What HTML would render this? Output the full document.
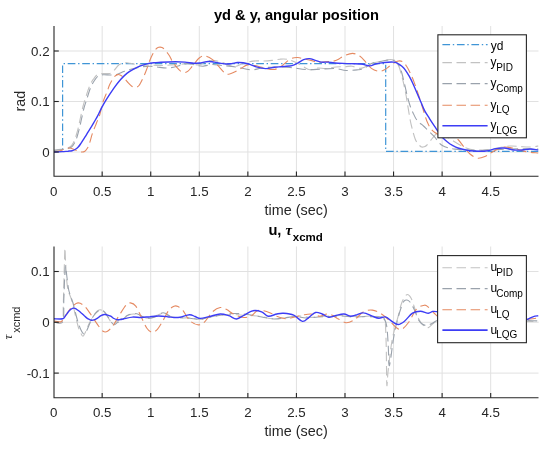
<!DOCTYPE html>
<html><head><meta charset="utf-8"><title>plot</title><style>
html,body{margin:0;padding:0;background:#fff;}
body{width:550px;height:452px;overflow:hidden;position:relative;}
text{font-family:"Liberation Sans",Arial,sans-serif;fill:#262626;}
.tk{font-size:13.33px;}
.lb{font-size:14.4px;}
.tt{font-size:14.67px;font-weight:bold;fill:#000;}
.tts{font-size:11.5px;font-weight:bold;fill:#000;}
.tau{font-family:"Liberation Serif",serif;font-style:italic;font-weight:bold;}
.tau2{font-family:"Liberation Serif",serif;font-style:italic;font-size:13.5px;}
.ls{font-size:11px;}
.lg{font-size:12px;fill:#000;}
.lgs{font-size:10px;fill:#000;}
</style></head><body>
<svg width="550" height="452" viewBox="0 0 550 452" style="position:absolute;left:0;top:0">
<rect width="550" height="452" fill="#fff"/>
<line x1="102.16" y1="26.0" x2="102.16" y2="176.3" stroke="#e1e1e1" stroke-width="1"/>
<line x1="150.73" y1="26.0" x2="150.73" y2="176.3" stroke="#e1e1e1" stroke-width="1"/>
<line x1="199.29" y1="26.0" x2="199.29" y2="176.3" stroke="#e1e1e1" stroke-width="1"/>
<line x1="247.86" y1="26.0" x2="247.86" y2="176.3" stroke="#e1e1e1" stroke-width="1"/>
<line x1="296.43" y1="26.0" x2="296.43" y2="176.3" stroke="#e1e1e1" stroke-width="1"/>
<line x1="344.99" y1="26.0" x2="344.99" y2="176.3" stroke="#e1e1e1" stroke-width="1"/>
<line x1="393.56" y1="26.0" x2="393.56" y2="176.3" stroke="#e1e1e1" stroke-width="1"/>
<line x1="442.12" y1="26.0" x2="442.12" y2="176.3" stroke="#e1e1e1" stroke-width="1"/>
<line x1="490.69" y1="26.0" x2="490.69" y2="176.3" stroke="#e1e1e1" stroke-width="1"/>
<line x1="54" y1="51.0" x2="538.5" y2="51.0" stroke="#e1e1e1" stroke-width="1"/>
<line x1="54" y1="101.5" x2="538.5" y2="101.5" stroke="#e1e1e1" stroke-width="1"/>
<line x1="54" y1="152.0" x2="538.5" y2="152.0" stroke="#e1e1e1" stroke-width="1"/>
<clipPath id="c1"><rect x="54" y="26.0" width="484.5" height="150.3"/></clipPath>
<g clip-path="url(#c1)" fill="none" stroke-linejoin="round">
<path d="M54 151.5 H62.6 V63.7 H385.7 V151.4 H538.5" stroke="#3f95d6" stroke-width="1.2" stroke-dasharray="7.7 2.7 1.4 2.7"/>
<path d="M54.0 150.0 C55.1 149.9 58.6 149.6 60.6 149.3 C62.6 149.1 64.3 149.0 66.0 148.5 C67.7 148.0 69.2 147.5 70.5 146.5 C71.8 145.5 72.6 144.2 73.5 142.5 C74.4 140.8 75.2 138.6 76.0 136.0 C76.8 133.4 77.7 130.3 78.5 127.0 C79.3 123.7 80.0 119.5 80.8 116.0 C81.6 112.5 82.4 108.8 83.1 106.0 C83.8 103.2 84.4 101.5 85.2 99.0 C86.0 96.5 86.9 93.6 87.7 91.2 C88.5 88.8 89.3 86.6 90.3 84.5 C91.3 82.4 92.6 80.2 93.8 78.6 C95.0 76.9 96.0 75.4 97.5 74.6 C99.0 73.8 100.5 73.8 102.5 73.6 C104.5 73.4 107.6 73.8 109.2 73.6 C110.8 73.4 111.1 72.8 112.0 72.2 C112.9 71.6 113.3 71.1 114.5 69.9 C115.7 68.7 117.3 66.0 119.0 64.8 C120.7 63.6 122.7 62.9 124.5 62.6 C126.3 62.4 127.9 63.0 130.0 63.3 C132.1 63.6 134.5 64.3 137.0 64.6 C139.5 64.9 142.3 65.1 145.0 65.2 C147.7 65.3 150.3 65.2 153.0 65.2 C155.7 65.2 158.2 65.5 161.0 65.5 C163.8 65.5 166.8 65.2 170.0 65.0 C173.2 64.8 176.7 64.4 180.0 64.2 C183.3 64.0 186.8 63.5 190.0 63.6 C193.2 63.7 196.2 65.2 199.0 64.8 C201.8 64.4 204.5 61.7 207.0 61.0 C209.5 60.3 211.5 60.4 214.0 60.6 C216.5 60.8 218.8 61.2 222.0 62.2 C225.2 63.2 229.7 66.2 233.0 66.5 C236.3 66.8 238.7 64.9 242.0 64.0 C245.3 63.1 249.3 61.6 253.0 61.1 C256.7 60.6 260.8 61.1 264.0 61.0 C267.2 60.9 269.3 60.7 272.0 60.4 C274.7 60.1 277.5 59.4 280.0 59.2 C282.5 59.0 284.5 58.8 287.0 59.3 C289.5 59.8 292.3 60.8 295.0 62.0 C297.7 63.2 300.5 65.2 303.0 66.5 C305.5 67.8 307.5 69.5 310.0 69.8 C312.5 70.0 315.3 68.2 318.0 68.0 C320.7 67.8 323.0 68.7 326.0 68.5 C329.0 68.3 332.8 67.3 336.0 67.0 C339.2 66.7 342.3 66.8 345.0 66.7 C347.7 66.6 349.5 65.9 352.0 66.2 C354.5 66.5 357.7 68.4 360.0 68.4 C362.3 68.5 363.8 67.4 366.0 66.5 C368.2 65.6 370.7 64.0 373.0 63.2 C375.3 62.4 377.5 62.1 380.0 61.5 C382.5 60.9 385.7 60.0 388.0 59.7 C390.3 59.5 392.5 59.4 394.0 60.0 C395.5 60.6 396.1 61.9 397.0 63.2 C397.9 64.5 398.8 66.0 399.5 68.0 C400.2 70.0 400.9 72.7 401.5 75.0 C402.1 77.3 402.7 79.5 403.3 82.0 C403.9 84.5 404.5 87.7 405.0 90.0 C405.5 92.3 405.8 93.8 406.2 96.0 C406.6 98.2 406.9 100.7 407.3 103.0 C407.7 105.3 408.1 107.3 408.5 110.0 C408.9 112.7 409.5 116.3 410.0 119.0 C410.5 121.7 410.9 123.7 411.5 126.0 C412.1 128.3 412.7 130.9 413.3 133.0 C413.9 135.1 414.4 136.9 415.0 138.5 C415.6 140.1 416.2 141.3 417.0 142.5 C417.8 143.7 418.7 144.8 419.5 145.5 C420.3 146.2 420.9 146.8 421.6 147.0 C422.4 147.2 423.1 147.1 424.0 146.8 C424.9 146.5 425.6 146.4 427.0 145.0 C428.4 143.6 430.7 140.3 432.2 138.5 C433.7 136.7 434.9 134.9 436.2 134.0 C437.5 133.1 438.4 132.7 440.0 133.0 C441.6 133.3 443.5 134.5 446.0 136.0 C448.5 137.5 451.8 140.1 455.0 142.0 C458.2 143.9 461.7 146.2 465.0 147.5 C468.3 148.8 471.2 149.7 475.0 150.0 C478.8 150.3 483.8 149.9 488.0 149.5 C492.2 149.1 496.3 148.1 500.0 147.5 C503.7 146.9 506.7 146.2 510.0 146.0 C513.3 145.8 516.7 146.3 520.0 146.5 C523.3 146.7 526.9 147.1 530.0 147.0 C533.1 146.9 537.1 146.2 538.5 146.0" stroke="#c2c2c2" stroke-width="1.1" stroke-dasharray="9.5 4.6"/>
<path d="M54.0 150.5 C55.2 150.4 58.8 150.1 61.0 149.8 C63.2 149.5 65.2 149.3 67.0 148.8 C68.8 148.3 70.2 148.0 71.5 147.0 C72.8 146.0 73.6 144.7 74.5 143.0 C75.4 141.3 76.2 139.5 77.0 137.0 C77.8 134.5 78.7 131.2 79.5 128.0 C80.3 124.8 81.0 121.3 81.7 118.0 C82.5 114.7 83.2 110.8 84.0 108.0 C84.8 105.2 85.4 103.5 86.2 101.0 C87.0 98.5 87.9 95.5 88.7 93.0 C89.5 90.5 90.3 88.2 91.3 86.0 C92.3 83.8 93.6 81.7 94.8 80.0 C96.0 78.3 97.0 76.7 98.5 75.8 C100.0 74.9 101.6 74.9 103.5 74.8 C105.4 74.7 107.9 75.0 110.0 75.0 C112.1 75.0 113.6 75.4 116.0 74.8 C118.4 74.2 121.8 72.3 124.5 71.3 C127.2 70.3 129.6 69.5 132.5 68.8 C135.4 68.0 138.9 67.2 141.8 66.8 C144.7 66.4 147.3 66.2 149.8 66.2 C152.3 66.2 154.0 66.7 157.0 67.0 C160.0 67.3 164.5 68.2 168.0 68.0 C171.5 67.8 174.8 66.8 178.0 66.0 C181.2 65.2 184.2 63.7 187.0 63.5 C189.8 63.3 192.3 64.5 195.0 65.0 C197.7 65.5 200.2 66.3 203.0 66.2 C205.8 66.1 208.8 64.6 212.0 64.5 C215.2 64.4 218.0 65.1 222.0 65.5 C226.0 65.9 231.2 66.3 236.0 67.0 C240.8 67.7 246.7 69.6 251.0 69.8 C255.3 70.0 258.0 68.5 262.0 68.0 C266.0 67.5 270.3 67.1 275.0 67.0 C279.7 66.9 284.8 67.1 290.0 67.5 C295.2 67.9 301.0 69.2 306.0 69.5 C311.0 69.8 315.2 69.4 320.0 69.2 C324.8 69.0 330.7 68.3 335.0 68.5 C339.3 68.7 342.2 70.3 346.0 70.5 C349.8 70.7 355.0 70.1 358.0 69.8 C361.0 69.5 361.8 69.5 364.0 68.4 C366.2 67.3 369.0 64.5 371.4 63.4 C373.8 62.3 376.0 62.4 378.6 61.9 C381.2 61.4 384.6 60.5 387.0 60.2 C389.4 59.9 391.2 59.8 393.0 60.3 C394.8 60.8 396.2 62.1 397.5 63.5 C398.8 64.9 399.7 66.5 400.5 68.5 C401.3 70.5 401.9 73.2 402.5 75.5 C403.1 77.8 403.6 80.0 404.2 82.5 C404.8 85.0 405.4 88.1 406.0 90.5 C406.6 92.9 406.9 94.8 407.5 97.0 C408.1 99.2 408.8 101.9 409.5 104.0 C410.2 106.1 410.8 107.9 411.5 109.5 C412.2 111.1 412.8 112.2 413.5 113.8 C414.2 115.3 415.1 117.3 416.0 118.8 C416.9 120.2 418.0 121.5 419.0 122.5 C420.0 123.5 420.9 123.7 422.0 124.6 C423.1 125.5 424.2 126.7 425.5 127.9 C426.8 129.1 427.9 130.4 429.5 131.9 C431.1 133.4 433.2 135.4 434.8 137.2 C436.4 139.0 437.5 141.1 438.8 142.5 C440.1 143.9 441.2 144.9 442.8 145.8 C444.4 146.7 446.1 147.2 448.1 147.8 C450.1 148.4 452.0 148.7 455.0 149.1 C458.0 149.5 462.2 149.8 466.0 150.0 C469.8 150.2 474.0 150.5 478.0 150.5 C482.0 150.5 484.7 150.2 490.0 150.0 C495.3 149.8 501.9 149.2 510.0 149.0 C518.1 148.8 533.8 149.0 538.5 149.0" stroke="#9aa2ac" stroke-width="1.1" stroke-dasharray="9.5 4.6"/>
<path d="M54.0 151.8 C55.0 151.6 58.0 151.4 60.0 150.8 C62.0 150.2 64.2 148.9 66.0 148.5 C67.8 148.1 69.3 147.9 71.0 148.2 C72.7 148.5 74.4 149.7 76.0 150.3 C77.6 150.9 79.1 151.7 80.5 151.9 C81.9 152.1 83.3 152.2 84.5 151.5 C85.7 150.8 86.6 149.5 87.5 148.0 C88.4 146.5 89.0 144.9 89.8 142.4 C90.6 139.9 91.4 136.4 92.5 133.2 C93.6 130.0 95.2 126.3 96.4 123.2 C97.6 120.1 98.8 117.8 99.8 114.6 C100.8 111.4 101.5 106.8 102.3 104.0 C103.1 101.2 103.9 99.6 104.7 97.5 C105.5 95.4 106.4 93.6 107.2 91.5 C108.0 89.4 108.6 87.0 109.5 85.0 C110.4 83.0 111.6 81.0 112.5 79.5 C113.4 78.0 114.1 77.0 115.0 76.2 C115.9 75.4 116.8 74.8 117.7 74.6 C118.6 74.4 119.5 74.7 120.5 75.2 C121.5 75.7 122.3 76.3 123.5 77.4 C124.7 78.5 126.1 80.5 127.5 82.0 C128.9 83.5 130.5 85.3 131.8 86.2 C133.1 87.1 134.3 87.3 135.5 87.2 C136.7 87.1 137.7 87.2 139.0 85.5 C140.3 83.8 142.2 79.7 143.5 77.0 C144.8 74.3 145.5 72.3 146.6 69.5 C147.7 66.7 149.0 62.5 150.0 60.0 C151.0 57.5 151.6 56.2 152.5 54.5 C153.4 52.8 154.5 50.7 155.5 49.5 C156.5 48.3 157.6 47.6 158.7 47.3 C159.8 47.0 160.9 47.0 162.0 47.5 C163.1 48.0 163.7 48.6 165.0 50.0 C166.3 51.4 168.3 54.0 169.6 56.0 C170.8 58.0 171.3 59.9 172.5 61.8 C173.7 63.7 175.6 66.0 177.0 67.6 C178.4 69.2 179.7 70.7 181.0 71.5 C182.3 72.3 183.8 72.5 185.0 72.5 C186.2 72.5 186.8 72.2 188.0 71.2 C189.2 70.2 190.4 68.4 192.3 66.2 C194.2 64.0 197.3 59.5 199.5 57.8 C201.7 56.1 203.2 55.7 205.4 56.0 C207.6 56.3 210.4 57.9 212.6 59.6 C214.8 61.3 216.6 64.0 218.5 66.2 C220.4 68.4 222.6 71.2 224.3 72.5 C226.0 73.8 226.7 74.4 228.6 74.2 C230.5 74.0 233.8 72.3 235.9 71.3 C238.0 70.3 239.1 69.5 241.0 68.4 C242.9 67.3 245.2 65.4 247.5 64.9 C249.8 64.4 252.4 65.1 254.8 65.5 C257.2 65.9 259.0 66.6 262.0 67.3 C265.0 68.0 269.9 69.6 273.0 69.5 C276.1 69.4 277.5 68.7 280.4 66.9 C283.3 65.1 287.6 60.5 290.5 58.9 C293.4 57.3 295.6 57.5 297.8 57.5 C300.0 57.5 301.4 58.4 303.6 58.9 C305.8 59.4 308.5 59.8 310.9 60.4 C313.3 61.0 315.8 62.1 318.2 62.3 C320.6 62.5 323.1 62.0 325.5 61.8 C327.9 61.6 330.6 61.7 332.7 61.3 C334.8 60.9 336.2 60.4 338.0 59.5 C339.8 58.6 341.3 57.0 343.7 56.0 C346.1 55.0 349.8 53.4 352.5 53.4 C355.2 53.4 357.5 54.6 359.7 56.0 C361.9 57.4 363.6 59.7 365.5 61.8 C367.4 63.9 369.2 66.8 371.4 68.4 C373.6 70.0 376.4 71.1 378.6 71.3 C380.8 71.5 382.5 70.8 384.5 69.8 C386.5 68.8 388.4 66.9 390.5 65.5 C392.6 64.1 395.3 61.9 397.3 61.2 C399.3 60.6 401.1 60.8 402.6 61.6 C404.2 62.5 405.3 64.3 406.6 66.3 C407.9 68.3 409.3 71.0 410.5 73.6 C411.7 76.1 412.8 78.7 413.9 81.6 C415.0 84.5 416.2 88.0 417.2 90.9 C418.2 93.8 418.9 96.2 419.8 99.0 C420.7 101.8 421.6 104.8 422.5 107.5 C423.4 110.2 424.2 113.0 425.0 115.5 C425.8 118.0 426.5 120.4 427.5 122.6 C428.5 124.8 429.7 127.2 430.9 128.8 C432.1 130.5 433.3 131.5 434.8 132.5 C436.3 133.5 438.0 134.4 440.0 135.0 C442.0 135.6 445.0 135.8 447.0 136.0 C449.0 136.2 450.2 135.9 452.0 136.5 C453.8 137.1 456.0 137.8 458.0 139.5 C460.0 141.2 462.0 144.6 464.0 147.0 C466.0 149.4 467.7 152.1 470.0 154.0 C472.3 155.9 475.3 157.9 478.0 158.2 C480.7 158.5 484.0 156.8 486.0 156.0 C488.0 155.2 488.3 154.5 490.0 153.5 C491.7 152.5 493.7 151.1 496.0 150.0 C498.3 148.9 501.3 147.3 504.0 147.0 C506.7 146.7 509.3 147.5 512.0 148.0 C514.7 148.5 517.3 149.3 520.0 150.0 C522.7 150.7 524.9 151.5 528.0 152.0 C531.1 152.5 536.8 152.8 538.5 153.0" stroke="#e58a62" stroke-width="1.1" stroke-dasharray="9.5 4.6"/>
<path d="M54.0 152.0 C55.3 151.9 59.7 151.7 62.0 151.6 C64.3 151.5 66.3 151.3 68.0 151.2 C69.7 151.0 70.8 151.0 72.0 150.7 C73.2 150.4 74.0 150.1 75.0 149.5 C76.0 148.9 77.1 148.1 78.0 147.2 C78.9 146.3 79.7 145.2 80.5 144.0 C81.3 142.8 82.2 141.5 83.0 140.2 C83.8 138.9 84.8 137.5 85.6 136.2 C86.4 134.9 87.2 133.5 88.0 132.2 C88.8 130.9 89.5 129.8 90.5 128.2 C91.5 126.6 92.6 124.7 93.8 122.6 C95.0 120.5 96.5 118.1 97.8 115.6 C99.1 113.1 100.2 110.3 101.7 107.6 C103.2 104.9 104.6 102.4 106.6 99.2 C108.6 96.0 111.6 91.5 113.9 88.2 C116.2 84.9 118.4 82.0 120.6 79.5 C122.8 77.0 125.0 74.8 127.2 73.1 C129.4 71.4 131.6 70.4 133.8 69.2 C136.0 68.0 138.3 66.8 140.5 65.9 C142.7 65.0 144.9 64.4 147.1 63.9 C149.3 63.4 151.5 63.1 153.8 62.8 C156.1 62.5 157.3 62.5 160.9 62.3 C164.5 62.1 171.5 61.8 175.5 61.8 C179.5 61.8 182.0 61.9 185.0 62.1 C188.0 62.4 191.3 63.1 193.7 63.3 C196.1 63.4 197.1 63.3 199.5 63.0 C201.9 62.7 205.9 61.6 208.3 61.5 C210.7 61.4 211.2 61.7 214.1 62.1 C217.0 62.5 222.8 63.8 225.7 64.0 C228.6 64.2 229.6 63.9 231.5 63.6 C233.4 63.4 235.5 62.6 237.4 62.5 C239.3 62.4 241.0 62.4 243.2 62.8 C245.4 63.2 248.3 64.0 250.5 64.7 C252.7 65.4 253.8 66.2 256.3 66.9 C258.9 67.6 262.8 68.5 265.8 68.6 C268.8 68.7 271.6 67.6 274.5 67.3 C277.4 67.0 280.4 66.8 283.3 66.5 C286.2 66.2 289.6 66.2 292.0 65.6 C294.4 65.0 295.9 64.0 297.8 63.0 C299.7 62.0 301.7 60.3 303.6 59.6 C305.6 58.9 307.6 58.5 309.5 58.6 C311.4 58.7 313.4 59.8 315.3 60.4 C317.2 61.0 318.9 61.8 321.1 62.1 C323.3 62.4 326.1 62.0 328.4 62.1 C330.7 62.2 331.5 62.8 335.0 63.0 C338.5 63.2 345.1 63.4 349.5 63.6 C353.9 63.8 357.8 63.6 361.2 64.0 C364.6 64.4 367.5 65.9 369.9 65.9 C372.3 65.9 373.3 64.6 375.7 64.0 C378.1 63.4 381.6 62.8 384.5 62.5 C387.4 62.2 391.0 62.0 393.2 62.1 C395.4 62.2 396.1 62.6 397.5 63.3 C398.9 64.0 400.6 65.2 401.9 66.3 C403.2 67.4 404.0 68.1 405.2 69.8 C406.4 71.5 407.9 73.8 409.2 76.2 C410.5 78.6 411.9 81.3 413.2 84.2 C414.5 87.1 415.9 90.4 417.2 93.5 C418.5 96.6 420.0 100.0 421.2 102.8 C422.4 105.6 423.2 108.0 424.6 110.6 C426.0 113.2 427.8 115.9 429.5 118.6 C431.2 121.3 433.3 124.4 434.8 126.6 C436.3 128.8 437.1 130.1 438.5 132.0 C439.9 133.9 441.4 136.2 443.0 138.0 C444.6 139.8 446.6 141.3 448.1 142.5 C449.6 143.7 450.5 144.3 452.1 145.2 C453.8 146.1 455.7 147.2 458.0 148.0 C460.3 148.8 463.3 149.5 466.0 150.0 C468.7 150.5 470.7 150.8 474.0 151.0 C477.3 151.2 482.3 151.4 486.0 151.0 C489.7 150.6 493.0 149.1 496.0 148.6 C499.0 148.1 501.0 147.8 504.0 148.0 C507.0 148.2 511.0 149.7 514.0 150.0 C517.0 150.3 519.3 150.2 522.0 150.0 C524.7 149.8 527.2 149.0 530.0 149.0 C532.8 149.0 537.1 149.8 538.5 150.0" stroke="#3d3df5" stroke-width="1.4"/>
</g>
<path d="M54 26.0 V176.3 H538.5" fill="none" stroke="#262626" stroke-width="1.1"/>
<line x1="102.16" y1="176.3" x2="102.16" y2="171.5" stroke="#262626" stroke-width="1.1"/>
<line x1="150.73" y1="176.3" x2="150.73" y2="171.5" stroke="#262626" stroke-width="1.1"/>
<line x1="199.29" y1="176.3" x2="199.29" y2="171.5" stroke="#262626" stroke-width="1.1"/>
<line x1="247.86" y1="176.3" x2="247.86" y2="171.5" stroke="#262626" stroke-width="1.1"/>
<line x1="296.43" y1="176.3" x2="296.43" y2="171.5" stroke="#262626" stroke-width="1.1"/>
<line x1="344.99" y1="176.3" x2="344.99" y2="171.5" stroke="#262626" stroke-width="1.1"/>
<line x1="393.56" y1="176.3" x2="393.56" y2="171.5" stroke="#262626" stroke-width="1.1"/>
<line x1="442.12" y1="176.3" x2="442.12" y2="171.5" stroke="#262626" stroke-width="1.1"/>
<line x1="490.69" y1="176.3" x2="490.69" y2="171.5" stroke="#262626" stroke-width="1.1"/>
<line x1="54" y1="51.0" x2="58.8" y2="51.0" stroke="#262626" stroke-width="1.1"/>
<line x1="54" y1="101.5" x2="58.8" y2="101.5" stroke="#262626" stroke-width="1.1"/>
<line x1="54" y1="152.0" x2="58.8" y2="152.0" stroke="#262626" stroke-width="1.1"/>
<text x="53.60" y="195.7" text-anchor="middle" class="tk">0</text>
<text x="102.16" y="195.7" text-anchor="middle" class="tk">0.5</text>
<text x="150.73" y="195.7" text-anchor="middle" class="tk">1</text>
<text x="199.29" y="195.7" text-anchor="middle" class="tk">1.5</text>
<text x="247.86" y="195.7" text-anchor="middle" class="tk">2</text>
<text x="296.43" y="195.7" text-anchor="middle" class="tk">2.5</text>
<text x="344.99" y="195.7" text-anchor="middle" class="tk">3</text>
<text x="393.56" y="195.7" text-anchor="middle" class="tk">3.5</text>
<text x="442.12" y="195.7" text-anchor="middle" class="tk">4</text>
<text x="490.69" y="195.7" text-anchor="middle" class="tk">4.5</text>
<text x="49.6" y="55.7" text-anchor="end" class="tk">0.2</text>
<text x="49.6" y="106.2" text-anchor="end" class="tk">0.1</text>
<text x="49.6" y="156.7" text-anchor="end" class="tk">0</text>
<text x="296.2" y="214.7" text-anchor="middle" class="lb">time (sec)</text>
<line x1="102.16" y1="246.5" x2="102.16" y2="397.8" stroke="#e1e1e1" stroke-width="1"/>
<line x1="150.73" y1="246.5" x2="150.73" y2="397.8" stroke="#e1e1e1" stroke-width="1"/>
<line x1="199.29" y1="246.5" x2="199.29" y2="397.8" stroke="#e1e1e1" stroke-width="1"/>
<line x1="247.86" y1="246.5" x2="247.86" y2="397.8" stroke="#e1e1e1" stroke-width="1"/>
<line x1="296.43" y1="246.5" x2="296.43" y2="397.8" stroke="#e1e1e1" stroke-width="1"/>
<line x1="344.99" y1="246.5" x2="344.99" y2="397.8" stroke="#e1e1e1" stroke-width="1"/>
<line x1="393.56" y1="246.5" x2="393.56" y2="397.8" stroke="#e1e1e1" stroke-width="1"/>
<line x1="442.12" y1="246.5" x2="442.12" y2="397.8" stroke="#e1e1e1" stroke-width="1"/>
<line x1="490.69" y1="246.5" x2="490.69" y2="397.8" stroke="#e1e1e1" stroke-width="1"/>
<line x1="54" y1="271.5" x2="538.5" y2="271.5" stroke="#e1e1e1" stroke-width="1"/>
<line x1="54" y1="322.3" x2="538.5" y2="322.3" stroke="#e1e1e1" stroke-width="1"/>
<line x1="54" y1="373.1" x2="538.5" y2="373.1" stroke="#e1e1e1" stroke-width="1"/>
<clipPath id="c2"><rect x="54" y="246.5" width="484.5" height="151.3"/></clipPath>
<g clip-path="url(#c2)" fill="none" stroke-linejoin="round">
<path d="M54.0 321.3 C55.4 321.3 60.8 324.0 62.3 321.3 C63.8 318.6 63.0 313.6 63.3 305.0 C63.6 296.4 63.9 279.4 64.2 270.0 C64.5 260.6 64.7 250.2 64.9 248.5 C65.1 246.8 65.2 255.2 65.5 260.0 C65.8 264.8 66.1 272.3 66.4 277.0 C66.8 281.7 67.2 285.3 67.6 288.0 C68.0 290.7 68.4 291.2 69.0 293.0 C69.6 294.8 70.6 296.8 71.3 299.0 C72.0 301.2 72.6 303.2 73.3 306.0 C74.0 308.8 74.7 312.7 75.5 316.0 C76.3 319.3 77.2 323.2 78.0 326.0 C78.8 328.8 79.7 330.8 80.5 332.5 C81.3 334.2 82.2 336.4 83.0 336.3 C83.8 336.2 84.7 333.7 85.5 332.0 C86.3 330.3 87.1 328.0 88.0 326.0 C88.9 324.0 89.8 322.1 91.0 320.0 C92.2 317.9 93.7 315.2 95.0 313.5 C96.3 311.8 97.8 310.5 99.0 310.0 C100.2 309.5 101.3 309.8 102.5 310.5 C103.7 311.2 104.8 312.4 106.0 314.0 C107.2 315.6 108.4 318.2 109.5 319.8 C110.6 321.4 111.5 323.1 112.5 323.5 C113.5 323.9 114.4 323.1 115.5 322.5 C116.6 321.9 117.8 320.8 119.0 320.0 C120.2 319.2 121.5 318.3 123.0 317.5 C124.5 316.7 126.2 315.8 128.0 315.2 C129.8 314.6 132.0 313.9 134.0 314.0 C136.0 314.1 138.0 314.8 140.0 315.5 C142.0 316.2 144.0 317.7 146.0 318.0 C148.0 318.3 150.0 317.7 152.0 317.2 C154.0 316.7 156.2 315.6 158.0 315.0 C159.8 314.4 161.3 313.4 163.0 313.5 C164.7 313.6 166.2 314.9 168.0 315.5 C169.8 316.1 171.7 316.9 174.0 317.3 C176.3 317.7 179.3 317.9 182.0 318.0 C184.7 318.1 187.0 317.6 190.0 317.8 C193.0 318.1 196.7 319.6 200.0 319.5 C203.3 319.4 206.7 317.7 210.0 317.0 C213.3 316.3 216.7 315.9 220.0 315.5 C223.3 315.1 226.7 314.6 230.0 314.5 C233.3 314.4 236.7 314.8 240.0 315.0 C243.3 315.2 246.3 315.2 250.0 315.5 C253.7 315.8 258.7 316.0 262.0 316.5 C265.3 317.0 267.0 318.2 270.0 318.5 C273.0 318.8 276.7 318.8 280.0 318.5 C283.3 318.2 286.7 317.4 290.0 317.0 C293.3 316.6 296.7 315.9 300.0 316.0 C303.3 316.1 306.7 317.4 310.0 317.5 C313.3 317.6 316.7 316.8 320.0 316.5 C323.3 316.2 326.7 316.2 330.0 316.0 C333.3 315.8 336.7 315.5 340.0 315.5 C343.3 315.5 346.7 315.8 350.0 316.0 C353.3 316.2 356.7 316.8 360.0 316.8 C363.3 316.8 367.0 316.1 370.0 316.0 C373.0 315.9 375.8 316.2 378.0 316.5 C380.2 316.8 381.8 316.6 383.0 317.5 C384.2 318.4 384.7 317.4 385.2 322.0 C385.7 326.6 385.9 334.5 386.2 345.0 C386.5 355.5 386.5 380.3 386.8 384.8 C387.1 389.3 387.4 377.5 388.0 372.0 C388.6 366.5 389.6 357.7 390.3 352.0 C391.1 346.3 391.6 342.3 392.5 338.0 C393.4 333.7 394.5 329.8 395.5 326.0 C396.5 322.2 397.6 318.5 398.5 315.0 C399.4 311.5 400.1 307.8 401.0 305.0 C401.9 302.2 402.9 299.8 404.0 298.0 C405.1 296.2 406.3 294.5 407.5 294.5 C408.7 294.5 409.9 296.1 411.0 298.0 C412.1 299.9 412.9 303.0 414.0 306.0 C415.1 309.0 416.2 313.2 417.4 316.0 C418.6 318.8 419.8 321.0 421.0 322.7 C422.2 324.4 423.5 325.6 424.7 326.4 C425.9 327.2 427.1 327.9 428.3 327.6 C429.5 327.3 430.7 325.5 432.0 324.5 C433.3 323.5 434.7 322.2 436.0 321.5 C437.3 320.8 437.7 320.2 440.0 320.0 C442.3 319.8 443.3 320.0 450.0 320.0 C456.7 320.0 470.0 319.8 480.0 320.0 C490.0 320.2 502.2 320.8 510.0 321.0 C517.8 321.2 523.2 321.4 527.0 321.5 C530.8 321.6 531.1 321.4 533.0 321.5 C534.9 321.6 537.6 321.9 538.5 322.0" stroke="#c2c2c2" stroke-width="1.1" stroke-dasharray="9.5 4.6"/>
<path d="M54.0 321.8 C55.5 321.8 61.2 325.4 62.8 321.8 C64.4 318.2 63.5 307.8 63.8 300.0 C64.1 292.2 64.5 280.7 64.8 275.0 C65.1 269.3 65.3 265.8 65.6 266.0 C65.9 266.2 66.3 272.2 66.8 276.0 C67.3 279.8 67.9 285.7 68.5 289.0 C69.1 292.3 69.8 293.7 70.5 296.0 C71.2 298.3 72.2 300.2 73.0 303.0 C73.8 305.8 74.7 309.8 75.5 313.0 C76.3 316.2 77.1 319.2 78.0 322.0 C78.9 324.8 80.0 328.0 81.0 330.0 C82.0 332.0 83.0 334.0 84.0 334.0 C85.0 334.0 86.0 331.8 87.0 330.0 C88.0 328.2 88.9 325.3 90.0 323.0 C91.1 320.7 92.2 317.9 93.5 316.0 C94.8 314.1 96.2 312.5 97.5 311.5 C98.8 310.5 99.8 309.9 101.0 310.0 C102.2 310.1 103.3 310.8 104.5 312.0 C105.7 313.2 106.9 315.4 108.0 317.0 C109.1 318.6 110.0 320.2 111.0 321.5 C112.0 322.8 112.9 324.5 114.0 324.7 C115.1 324.9 116.2 323.2 117.5 322.5 C118.8 321.8 119.8 321.8 121.6 320.5 C123.4 319.2 125.6 316.1 128.2 315.0 C130.8 313.9 134.0 313.3 136.9 313.8 C139.8 314.3 142.7 317.6 145.6 318.2 C148.5 318.8 151.5 318.0 154.4 317.1 C157.3 316.2 160.2 312.7 163.1 312.7 C166.0 312.7 169.0 316.3 171.8 317.1 C174.6 317.9 177.0 317.3 180.0 317.5 C183.0 317.7 186.7 318.0 190.0 318.3 C193.3 318.6 196.3 319.6 200.0 319.3 C203.7 319.1 208.3 317.5 212.0 316.8 C215.7 316.1 218.7 315.6 222.0 315.0 C225.3 314.4 228.3 313.7 232.0 313.5 C235.7 313.3 240.3 313.7 244.0 314.0 C247.7 314.3 250.7 314.9 254.0 315.5 C257.3 316.1 260.7 316.9 264.0 317.5 C267.3 318.1 270.7 318.9 274.0 319.0 C277.3 319.1 280.5 318.4 284.0 318.0 C287.5 317.6 291.3 316.5 295.0 316.5 C298.7 316.5 302.2 317.9 306.0 318.0 C309.8 318.1 314.0 317.2 318.0 317.0 C322.0 316.8 326.0 316.7 330.0 316.5 C334.0 316.3 338.0 315.9 342.0 316.0 C346.0 316.1 350.0 316.9 354.0 317.0 C358.0 317.1 362.3 316.5 366.0 316.5 C369.7 316.5 373.2 316.8 376.0 317.0 C378.8 317.2 381.2 316.7 383.0 318.0 C384.8 319.3 385.6 320.5 386.5 325.0 C387.4 329.5 387.8 338.3 388.2 345.0 C388.6 351.7 388.6 362.5 389.0 365.0 C389.4 367.5 389.9 363.3 390.5 360.0 C391.1 356.7 391.8 350.0 392.5 345.0 C393.2 340.0 394.1 334.5 395.0 330.0 C395.9 325.5 397.0 321.7 398.0 318.0 C399.0 314.3 400.0 310.8 401.0 308.0 C402.0 305.2 403.0 302.5 404.0 301.2 C405.0 299.9 406.0 299.9 407.0 300.0 C408.0 300.1 408.8 300.5 410.0 302.0 C411.2 303.5 412.6 306.0 414.0 309.0 C415.4 312.0 417.2 317.5 418.6 320.0 C420.0 322.5 420.8 323.1 422.2 324.0 C423.6 324.9 425.4 325.6 427.0 325.5 C428.6 325.4 430.5 324.2 432.0 323.5 C433.5 322.8 434.7 321.5 436.0 321.0 C437.3 320.5 436.0 320.6 440.0 320.5 C444.0 320.4 450.0 320.5 460.0 320.5 C470.0 320.5 488.8 320.5 500.0 320.5 C511.2 320.5 520.6 320.4 527.0 320.5 C533.4 320.6 536.6 320.9 538.5 321.0" stroke="#9aa2ac" stroke-width="1.1" stroke-dasharray="9.5 4.6"/>
<path d="M54.0 321.0 C55.1 321.1 59.0 322.1 60.5 321.9 C62.0 321.6 62.1 320.7 63.0 319.5 C63.9 318.3 64.6 316.9 66.0 314.9 C67.4 312.9 69.5 309.3 71.5 307.3 C73.5 305.3 75.8 303.1 78.0 302.9 C80.2 302.7 82.3 304.2 84.5 306.2 C86.7 308.2 88.9 311.8 91.1 314.9 C93.3 318.0 95.6 322.0 97.6 324.7 C99.6 327.4 101.4 330.2 103.1 331.3 C104.8 332.4 105.9 332.2 107.5 331.3 C109.1 330.4 110.9 328.5 112.9 325.8 C114.9 323.1 117.3 318.3 119.5 314.9 C121.7 311.4 124.2 307.1 126.0 305.1 C127.8 303.1 128.8 302.7 130.4 302.9 C132.0 303.1 134.0 303.8 135.8 306.2 C137.6 308.6 139.5 313.5 141.3 317.1 C143.1 320.7 144.9 325.4 146.7 328.0 C148.5 330.6 150.4 332.2 152.2 332.4 C154.0 332.6 155.8 331.1 157.6 329.1 C159.4 327.1 161.3 323.5 163.1 320.4 C164.9 317.3 166.8 312.9 168.6 310.5 C170.4 308.1 172.4 306.9 174.0 306.2 C175.6 305.5 176.5 305.8 178.0 306.5 C179.5 307.2 181.2 308.4 183.1 310.7 C185.0 313.0 187.0 318.1 189.6 320.5 C192.2 322.9 195.8 324.7 198.4 324.9 C201.0 325.1 202.6 323.8 204.9 321.6 C207.2 319.4 209.9 314.2 212.5 311.8 C215.1 309.4 217.8 307.9 220.2 307.5 C222.6 307.1 224.5 308.5 226.7 309.6 C228.9 310.7 230.8 312.7 233.3 314.0 C235.9 315.3 239.1 316.9 242.0 317.3 C244.9 317.7 248.1 317.3 250.7 316.2 C253.2 315.1 255.1 311.6 257.3 310.7 C259.5 309.8 261.6 310.3 263.8 310.7 C266.0 311.1 268.2 312.0 270.4 312.9 C272.6 313.8 274.4 315.2 276.9 316.2 C279.4 317.1 282.8 318.4 285.6 318.6 C288.4 318.8 290.9 317.9 293.7 317.3 C296.5 316.7 299.6 315.7 302.5 315.1 C305.4 314.6 308.3 313.8 311.2 314.0 C314.1 314.2 317.0 316.2 319.9 316.2 C322.8 316.2 325.7 313.6 328.6 314.0 C331.5 314.4 334.5 316.9 337.4 318.4 C340.3 319.8 343.2 322.5 346.1 322.7 C349.0 322.9 351.9 321.3 354.8 319.5 C357.7 317.7 360.6 313.4 363.5 311.8 C366.4 310.2 369.4 309.8 372.3 310.1 C375.2 310.4 378.3 312.0 381.0 313.6 C383.7 315.2 386.0 317.4 388.6 319.8 C391.2 322.2 394.3 326.2 396.5 327.8 C398.7 329.4 399.9 330.0 401.9 329.1 C403.9 328.2 406.1 325.8 408.5 322.5 C410.9 319.2 413.9 312.1 416.5 309.2 C419.1 306.3 422.4 305.5 424.4 305.2 C426.4 304.9 427.1 306.2 428.7 307.5 C430.3 308.8 432.1 311.2 434.0 313.0 C435.9 314.8 437.3 316.5 440.0 318.0 C442.7 319.5 445.0 322.0 450.0 322.0 C455.0 322.0 461.7 318.7 470.0 318.0 C478.3 317.3 491.7 317.7 500.0 318.0 C508.3 318.3 515.0 319.8 520.0 320.0 C525.0 320.2 526.9 319.3 530.0 319.0 C533.1 318.7 537.1 318.2 538.5 318.0" stroke="#e58a62" stroke-width="1.1" stroke-dasharray="9.5 4.6"/>
<path d="M54.0 318.8 C55.5 318.8 60.9 319.2 62.7 318.8 C64.5 318.4 64.3 317.4 65.0 316.5 C65.7 315.6 66.3 314.6 67.1 313.6 C67.8 312.6 68.6 311.4 69.5 310.5 C70.4 309.6 71.6 308.8 72.5 308.4 C73.4 308.0 74.1 308.1 75.0 308.4 C75.9 308.7 76.9 309.5 78.0 310.3 C79.1 311.1 80.4 312.2 81.5 313.2 C82.6 314.1 83.4 315.1 84.5 316.0 C85.6 316.9 86.8 318.1 88.0 318.8 C89.2 319.5 90.3 320.2 91.5 320.3 C92.7 320.4 93.9 320.0 94.9 319.6 C95.9 319.2 96.7 318.8 97.6 318.2 C98.5 317.6 99.4 316.5 100.5 315.9 C101.6 315.3 103.1 314.7 104.2 314.5 C105.3 314.3 105.9 314.6 107.0 314.9 C108.1 315.2 109.5 315.6 110.7 316.2 C111.9 316.8 112.9 317.9 114.0 318.5 C115.1 319.1 116.2 319.5 117.3 319.7 C118.4 319.9 119.4 319.6 120.5 319.5 C121.6 319.4 121.8 319.2 123.8 318.8 C125.8 318.4 129.6 317.3 132.5 317.1 C135.4 316.9 138.4 317.6 141.3 317.5 C144.2 317.4 147.1 316.9 150.0 316.7 C152.9 316.4 155.8 316.0 158.7 316.0 C161.6 316.0 164.9 316.4 167.5 316.7 C170.1 316.9 171.9 317.4 174.0 317.5 C176.1 317.6 177.4 317.7 180.0 317.2 C182.6 316.7 187.1 314.8 189.6 314.7 C192.1 314.6 193.2 315.9 195.0 316.5 C196.8 317.1 198.1 318.4 200.5 318.4 C202.9 318.4 206.0 317.3 209.3 316.6 C212.6 315.9 216.9 314.1 220.2 314.0 C223.5 313.9 226.2 314.9 228.9 315.7 C231.6 316.5 233.9 319.1 236.5 319.0 C239.1 318.9 241.5 316.5 244.2 315.1 C246.9 313.7 250.0 311.2 252.9 310.7 C255.8 310.1 259.1 310.9 261.6 311.8 C264.2 312.7 265.6 315.8 268.2 316.2 C270.8 316.6 274.3 314.5 276.9 314.0 C279.4 313.5 280.7 313.1 283.5 313.3 C286.3 313.5 290.5 313.8 293.7 315.1 C296.9 316.5 299.9 321.0 302.5 321.4 C305.1 321.8 306.8 318.8 309.0 317.3 C311.2 315.8 313.3 313.1 315.5 312.5 C317.7 311.9 319.9 313.2 322.1 314.0 C324.3 314.8 326.4 317.0 328.6 317.3 C330.8 317.6 332.6 316.2 335.2 315.7 C337.8 315.1 341.3 313.9 343.9 314.0 C346.4 314.1 348.3 316.1 350.5 316.2 C352.7 316.3 354.8 315.2 357.0 314.7 C359.2 314.1 360.9 312.6 363.5 312.9 C366.1 313.1 369.8 315.3 372.3 316.2 C374.9 317.1 376.6 318.1 378.8 318.2 C381.0 318.3 383.2 316.4 385.4 316.9 C387.6 317.4 389.8 320.1 391.9 321.4 C394.0 322.7 396.1 324.5 398.2 324.5 C400.3 324.5 402.1 323.1 404.5 321.2 C406.9 319.3 409.9 314.8 412.5 313.2 C415.1 311.6 417.8 311.3 420.4 311.3 C423.0 311.3 426.3 313.2 428.4 313.2 C430.5 313.2 431.1 311.6 433.0 311.4 C434.9 311.2 437.2 311.6 440.0 312.0 C442.8 312.4 443.3 313.3 450.0 314.0 C456.7 314.7 470.0 315.0 480.0 316.0 C490.0 317.0 503.3 319.2 510.0 320.0 C516.7 320.8 517.2 321.1 520.0 321.0 C522.8 320.9 524.8 320.2 527.0 319.5 C529.2 318.8 531.6 317.2 533.5 316.6 C535.4 316.0 537.7 315.9 538.5 315.7" stroke="#3d3df5" stroke-width="1.4"/>
</g>
<path d="M54 246.5 V397.8 H538.5" fill="none" stroke="#262626" stroke-width="1.1"/>
<line x1="102.16" y1="397.8" x2="102.16" y2="393.0" stroke="#262626" stroke-width="1.1"/>
<line x1="150.73" y1="397.8" x2="150.73" y2="393.0" stroke="#262626" stroke-width="1.1"/>
<line x1="199.29" y1="397.8" x2="199.29" y2="393.0" stroke="#262626" stroke-width="1.1"/>
<line x1="247.86" y1="397.8" x2="247.86" y2="393.0" stroke="#262626" stroke-width="1.1"/>
<line x1="296.43" y1="397.8" x2="296.43" y2="393.0" stroke="#262626" stroke-width="1.1"/>
<line x1="344.99" y1="397.8" x2="344.99" y2="393.0" stroke="#262626" stroke-width="1.1"/>
<line x1="393.56" y1="397.8" x2="393.56" y2="393.0" stroke="#262626" stroke-width="1.1"/>
<line x1="442.12" y1="397.8" x2="442.12" y2="393.0" stroke="#262626" stroke-width="1.1"/>
<line x1="490.69" y1="397.8" x2="490.69" y2="393.0" stroke="#262626" stroke-width="1.1"/>
<line x1="54" y1="271.5" x2="58.8" y2="271.5" stroke="#262626" stroke-width="1.1"/>
<line x1="54" y1="322.3" x2="58.8" y2="322.3" stroke="#262626" stroke-width="1.1"/>
<line x1="54" y1="373.1" x2="58.8" y2="373.1" stroke="#262626" stroke-width="1.1"/>
<text x="53.60" y="417.3" text-anchor="middle" class="tk">0</text>
<text x="102.16" y="417.3" text-anchor="middle" class="tk">0.5</text>
<text x="150.73" y="417.3" text-anchor="middle" class="tk">1</text>
<text x="199.29" y="417.3" text-anchor="middle" class="tk">1.5</text>
<text x="247.86" y="417.3" text-anchor="middle" class="tk">2</text>
<text x="296.43" y="417.3" text-anchor="middle" class="tk">2.5</text>
<text x="344.99" y="417.3" text-anchor="middle" class="tk">3</text>
<text x="393.56" y="417.3" text-anchor="middle" class="tk">3.5</text>
<text x="442.12" y="417.3" text-anchor="middle" class="tk">4</text>
<text x="490.69" y="417.3" text-anchor="middle" class="tk">4.5</text>
<text x="49.6" y="276.2" text-anchor="end" class="tk">0.1</text>
<text x="49.6" y="327.0" text-anchor="end" class="tk">0</text>
<text x="49.6" y="377.8" text-anchor="end" class="tk">-0.1</text>
<text x="296.2" y="436.3" text-anchor="middle" class="lb">time (sec)</text>
<text x="296.4" y="20.1" text-anchor="middle" class="tt">yd &amp; y, angular position</text>
<text x="268.4" y="234.5" class="tt">u, <tspan class="tau">τ</tspan></text>
<text x="292.8" y="241.2" class="tts">xcmd</text>
<text transform="translate(24.5 101.2) rotate(-90)" text-anchor="middle" class="lb">rad</text>
<text transform="translate(11.5 339.6) rotate(-90)" class="lb"><tspan class="tau2">τ</tspan></text>
<text transform="translate(20.2 332.8) rotate(-90)" class="ls">xcmd</text>
<rect x="437.9" y="34.8" width="88.5" height="103.0" fill="#fff" stroke="#262626" stroke-width="1.1"/>
<line x1="442.4" y1="44.6" x2="487.6" y2="44.6" stroke="#3f95d6" stroke-width="1.2" stroke-dasharray="7.7 2.7 1.4 2.7"/>
<text x="490.8" y="50.0" class="lg">yd</text>
<line x1="442.4" y1="62.6" x2="487.6" y2="62.6" stroke="#c2c2c2" stroke-width="1.1" stroke-dasharray="9.5 4.6"/>
<text x="490.6" y="66.0" class="lg">y</text>
<text x="496.2" y="70.6" class="lgs">PID</text>
<line x1="442.4" y1="83.6" x2="487.6" y2="83.6" stroke="#9aa2ac" stroke-width="1.1" stroke-dasharray="9.5 4.6"/>
<text x="490.6" y="87.0" class="lg">y</text>
<text x="496.2" y="91.6" class="lgs">Comp</text>
<line x1="442.4" y1="105.2" x2="487.6" y2="105.2" stroke="#e58a62" stroke-width="1.1" stroke-dasharray="9.5 4.6"/>
<text x="490.6" y="108.6" class="lg">y</text>
<text x="496.2" y="113.2" class="lgs">LQ</text>
<line x1="442.4" y1="125.8" x2="487.6" y2="125.8" stroke="#3d3df5" stroke-width="1.6"/>
<text x="490.6" y="129.2" class="lg">y</text>
<text x="496.2" y="133.8" class="lgs">LQG</text>
<rect x="437.6" y="255.6" width="88.8" height="87.1" fill="#fff" stroke="#262626" stroke-width="1.1"/>
<line x1="442.4" y1="267.8" x2="487.6" y2="267.8" stroke="#c2c2c2" stroke-width="1.1" stroke-dasharray="9.5 4.6"/>
<text x="490.6" y="271.2" class="lg">u</text>
<text x="496.2" y="275.8" class="lgs">PID</text>
<line x1="442.4" y1="288.6" x2="487.6" y2="288.6" stroke="#9aa2ac" stroke-width="1.1" stroke-dasharray="9.5 4.6"/>
<text x="490.6" y="292.0" class="lg">u</text>
<text x="496.2" y="296.6" class="lgs">Comp</text>
<line x1="442.4" y1="309.7" x2="487.6" y2="309.7" stroke="#e58a62" stroke-width="1.1" stroke-dasharray="9.5 4.6"/>
<text x="490.6" y="313.1" class="lg">u</text>
<text x="496.2" y="317.7" class="lgs">LQ</text>
<line x1="442.4" y1="330.1" x2="487.6" y2="330.1" stroke="#3d3df5" stroke-width="1.6"/>
<text x="490.6" y="333.5" class="lg">u</text>
<text x="496.2" y="338.1" class="lgs">LQG</text>
</svg>
</body></html>
